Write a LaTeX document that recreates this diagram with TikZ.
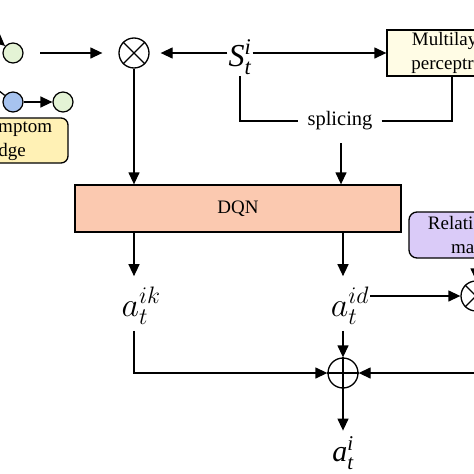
\RequirePackage{fix-cm}
\documentclass[tikz,border=0pt]{standalone}
\usepackage{fontspec}
\usepackage{amsmath}
\setmainfont{Liberation Serif}
\usetikzlibrary{arrows.meta}
\definecolor{cgreen}{HTML}{E4F3D5}
\definecolor{cblue}{HTML}{A7C3EF}
\definecolor{cyellow}{HTML}{FFF1B5}
\definecolor{ccream}{HTML}{FFFCE5}
\definecolor{csalmon}{HTML}{FBC9B0}
\definecolor{clav}{HTML}{DACBF8}
\begin{document}
\begin{tikzpicture}[x=1pt,y=-1pt,
  every node/.style={font=\fontsize{19}{24}\selectfont},
  ln/.style={line width=1.3pt},
  arr/.style={ln,-{Triangle[length=12pt,width=11pt]}},
  opc/.style={circle,draw,line width=1.3pt,minimum size=30pt,inner sep=0pt,fill=white},
  dotc/.style={circle,draw,line width=1.2pt,minimum size=20pt,inner sep=0pt},
  box/.style={draw,line width=1.3pt,inner sep=0pt,align=center},
  big/.style={font=\fontsize{34}{38}\selectfont, inner sep=1pt},
  bigt/.style={font=\fontsize{30}{34}\selectfont, inner sep=1pt}]
\useasboundingbox (0,0) rectangle (474,474);
\clip (0,0) rectangle (474,474);
% left graph fragment
\node[dotc,fill=cgreen] (g1) at (13,53) {};
\node[dotc,fill=cblue] (b2) at (13,102) {};
\node[dotc,fill=cgreen] (g2) at (63,102) {};
\coordinate (in1) at (-12,31);
\coordinate (in2) at (-12,82);
\draw[arr] (in1) -- (g1);
\draw[ln] (in2) -- (b2);
\draw[arr] (b2) -- (g2);
\node[box,rounded corners=7pt,fill=cyellow,minimum width=168pt,minimum height=45pt] (sk) at (-16,140.5) {Disease-symptom\\knowledge};
% top multiply
\node[opc] (m1) at (134,53) {};
\draw[ln] (m1.45)--(m1.225) (m1.135)--(m1.-45);
\coordinate (c1) at (40,53);
\draw[arr,shorten >=16pt] (c1) -- (m1);
\node[font=\fontsize{32}{36}\selectfont,inner sep=1pt] (s) at (240,57) {$\text{\itshape S}^{\text{\itshape i}}_{\text{\itshape t}}$};
\draw[arr,shorten >=11pt] (s.west |- m1.east) -- (m1.east);
\node[box,fill=ccream,minimum width=130pt,minimum height=46pt] (mlp) at (452,53) {Multilayer\\perceptron};
\draw[arr] (s.east |- mlp.west) -- (mlp.west);
\node[inner xsep=9pt,inner ysep=2pt,font=\fontsize{20.5}{24}\selectfont] (spl) at (340,121) {splicing};
\draw[ln] (s.south) |- (spl.west);
\draw[ln] (spl.east) -| (mlp.south);
% DQN
\node[box,fill=csalmon,minimum width=326pt,minimum height=47pt] (dqn) at (238,208.5) {DQN};
\coordinate (c2) at (341,143);
\draw[arr] (c2) -- (c2 |- dqn.north);
\draw[arr] (m1.south) -- (m1.south |- dqn.north);
% outputs
\node[opc] (p) at (343,373) {};
\draw[ln] (p.north)--(p.south) (p.west)--(p.east);
\node[big] (ak) at (141,306) {$a_t^{ik}$};
\node[big] (ad) at (350,306) {$a_t^{id}$};
\draw[arr,shorten >=10pt] (m1 |- dqn.south) -- (m1 |- ak.north);
\draw[arr,shorten >=10pt] (p |- dqn.south) -- (p |- ad.north);
\draw[arr,shorten <=5pt] (m1 |- ak.south) |- (p.west);
\draw[arr,shorten <=5pt] (p |- ad.south) -- (p.north);
% relation matrix
\node[box,rounded corners=8pt,fill=clav,minimum width=134pt,minimum height=46pt] (rel) at (476,235) {Relationship\\matrix};
\node[opc] (m2) at (476,296) {};
\draw[ln] (m2.45)--(m2.225) (m2.135)--(m2.-45);
\draw[arr] (rel.south) -- (m2.north);
\draw[arr] (ad.east |- m2.west) -- (m2.west);
\coordinate (c3) at (490,373);
\draw[arr] (c3) -- (p.east);
\node[bigt] (ai) at (343,453) {$\text{\itshape a}^{\text{\itshape i}}_{\text{\itshape t}}$};
\draw[arr,shorten >=5pt] (p.south) -- (p.south |- ai.north);
\end{tikzpicture}
\end{document}
